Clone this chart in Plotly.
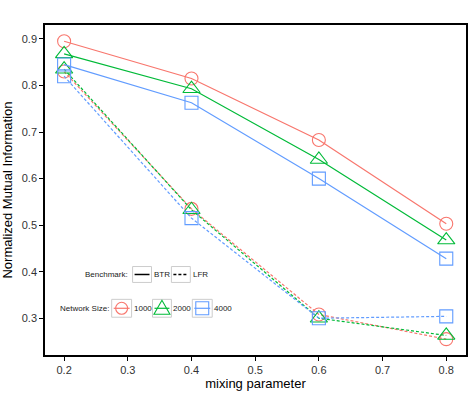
import plotly.graph_objects as go

x_vals = [0.2, 0.4, 0.6, 0.8]
sizes = ["1000", "2000", "4000"]
btr = {
    "1000": [0.895, 0.815, 0.683, 0.503],
    "2000": [0.868, 0.793, 0.641, 0.468],
    "4000": [0.845, 0.763, 0.600, 0.428],
}
lfr = {
    "1000": [0.830, 0.535, 0.308, 0.255],
    "2000": [0.835, 0.533, 0.300, 0.263],
    "4000": [0.820, 0.515, 0.300, 0.304],
}
colors = {"1000": "#F8766D", "2000": "#00BA38", "4000": "#619CFF"}
symbols = {"1000": "circle-open", "2000": "triangle-up-open", "4000": "square-open"}
msize = {"1000": 13, "2000": 15, "4000": 13}
DOT = "3px,2px"

fig = go.Figure()
for s in sizes:
    fig.add_trace(go.Scatter(
        x=x_vals, y=lfr[s], mode="lines+markers", name=s, showlegend=False,
        line=dict(color=colors[s], width=1.2, dash=DOT),
        marker=dict(symbol=symbols[s], size=msize[s], color=colors[s], line=dict(width=1.1, color=colors[s])),
    ))
for s in sizes:
    fig.add_trace(go.Scatter(
        x=x_vals, y=btr[s], mode="lines+markers", name=s, showlegend=False,
        line=dict(color=colors[s], width=1.2),
        marker=dict(symbol=symbols[s], size=msize[s], color=colors[s], line=dict(width=1.1, color=colors[s])),
    ))

# ---- manual legend (ggplot-style boxed keys), positioned in paper coords ----
L, R, T, B = 45, 6, 25, 38
W, H = 474, 395
pw, ph = W - L - R, H - T - B
def px(x): return (x - L) / pw
def py(y): return (H - B - y) / ph

shapes = []
annots = []
lfont = dict(size=8, color="#1a1a1a", family="Liberation Sans, Arial, sans-serif")

def key_box(x0, x1, y0, y1):
    shapes.append(dict(type="rect", xref="paper", yref="paper", x0=px(x0), x1=px(x1),
                       y0=py(y1), y1=py(y0), line=dict(color="#CCCCCC", width=1), fillcolor="white"))

def label(x, y, text, anchor="left"):
    annots.append(dict(xref="paper", yref="paper", x=px(x), y=py(y), text=text, showarrow=False,
                       xanchor=anchor, yanchor="middle", font=lfont, borderpad=0))

# Benchmark row
yb = 276
label(129, yb, "Benchmark:", "right")
for (x0, x1, name, dash) in [(133, 152, "BTR", "solid"), (172, 191, "LFR", DOT)]:
    key_box(x0, x1, yb - 8, yb + 8)
    shapes.append(dict(type="line", xref="paper", yref="paper", x0=px(x0 + 2), x1=px(x1 - 2),
                       y0=py(yb), y1=py(yb), line=dict(color="black", width=1.5, dash=dash)))
    label(x1 + 2, yb, name)

# Network size row
yn = 310
label(110, yn, "Network Size:", "right")
for s, (x0, x1) in zip(sizes, [(112, 132), (153, 172), (193, 213)]):
    key_box(x0, x1, yn - 9, yn + 9)
    c = colors[s]
    cx = (x0 + x1) / 2
    shapes.append(dict(type="line", xref="paper", yref="paper", x0=px(x0 + 2), x1=px(x1 - 2),
                       y0=py(yn), y1=py(yn), line=dict(color=c, width=1.2)))
    if s == "1000":
        shapes.append(dict(type="circle", xref="paper", yref="paper", x0=px(cx - 6), x1=px(cx + 6),
                           y0=py(yn + 6), y1=py(yn - 6), line=dict(color=c, width=1.1)))
    elif s == "2000":
        path = "M {} {} L {} {} L {} {} Z".format(px(cx - 8), py(yn + 6), px(cx + 8), py(yn + 6),
                                                 px(cx), py(yn - 8))
        shapes.append(dict(type="path", xref="paper", yref="paper", path=path, line=dict(color=c, width=1.1)))
    else:
        shapes.append(dict(type="rect", xref="paper", yref="paper", x0=px(cx - 6.5), x1=px(cx + 6.5),
                           y0=py(yn + 6.5), y1=py(yn - 6.5), line=dict(color=c, width=1.1)))
    label(x1 + 1, yn, s)

font = "Liberation Sans, Arial, sans-serif"
fig.update_layout(
    width=W, height=H,
    margin=dict(l=L, r=R, t=T, b=B),
    plot_bgcolor="white", paper_bgcolor="white",
    font=dict(family=font, color="black"),
    showlegend=False,
    shapes=shapes, annotations=annots,
)
fig.update_xaxes(
    range=[0.17, 0.831], tickvals=[0.2, 0.3, 0.4, 0.5, 0.6, 0.7, 0.8],
    ticktext=["0.2", "0.3", "0.4", "0.5", "0.6", "0.7", "0.8"],
    showgrid=False, zeroline=False, showline=True, linecolor="black", linewidth=1.5,
    mirror=True, ticks="outside", ticklen=4, tickcolor="black",
    tickfont=dict(size=11, color="#333333"),
    title=dict(text="mixing parameter", font=dict(size=13), standoff=4),
)
fig.update_yaxes(
    range=[0.221, 0.93], tickvals=[0.3, 0.4, 0.5, 0.6, 0.7, 0.8, 0.9],
    ticktext=["0.3", "0.4", "0.5", "0.6", "0.7", "0.8", "0.9"],
    showgrid=False, zeroline=False, showline=True, linecolor="black", linewidth=1.5,
    mirror=True, ticks="outside", ticklen=4, tickcolor="black",
    tickfont=dict(size=11, color="#333333"),
    title=dict(text="Normalized Mutual Information", font=dict(size=13), standoff=6),
)
fig.write_html("out.html", config={"displayModeBar": False},
               post_script="document.body.style.margin='0';")
